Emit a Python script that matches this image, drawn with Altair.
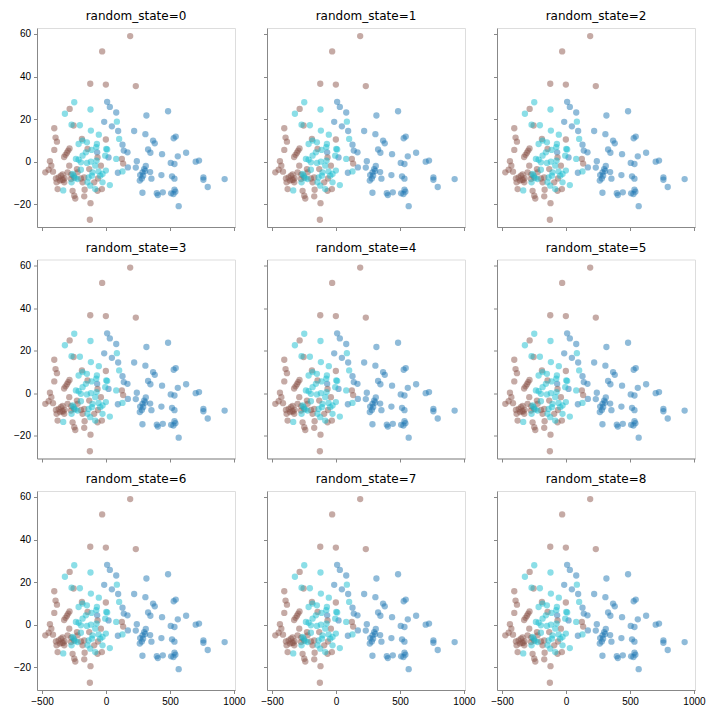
import altair as alt
import pandas as pd

# class 0 (blue)
blue_x = [9, 30, 80, -14, 46, 95, 316, 485, 220, 308, 368, 381, 529, 545, 129, 139, 168, 20,
          329, 347, 438, 561, 626, 241, 233, 93, 171, 311, 298, 285, 267, 280, 264, 345, 355,
          433, 506, 535, 516, 535, 701, 727, 761, 761, 795, 927, 285, 397, 405, 444, 509, 535,
          542, 527, 568, -69, 290, 306]
blue_y = [28.1, 25.7, 23.1, 18.7, 16.6, 14.4, 21.7, 23.7, 14.4, 12.9, 9.9, 8.6, 11.0, 11.8, 8.0,
          5.2, 4.4, 2.0, 5.7, 4.2, 3.5, 2.5, 4.2, 0.2, -2.8, -5.2, -2.7, -2.0, -3.5, -5.0, -6.3,
          -7.9, -8.9, -4.9, -8.0, -6.3, -0.6, -1.1, -6.9, -8.0, 0.0, 0.5, -7.4, -8.5, -11.9, -8.2,
          -14.6, -14.8, -15.7, -14.4, -14.9, -13.2, -14.1, -15.2, -20.9, 4.4, -6.6, -4.4]

# class 1 (brown)
brown_x = [189, -30, -123, -1, 233, -284, -404, -394, -383, -253, -1, -188, -404, -285, -295,
           -305, -316, -327, -438, -427, -474, -448, -414, -370, -352, -339, -360, -391, -334,
           -323, -287, -271, -274, -248, -222, -196, -170, -227, -144, -66, -40, 124, 134, -92,
           -66, -32, -261, -248, -240, -170, -121, -126, -378, -326, -183, -131, -167, -344,
           -386, -300, -63]
brown_y = [59.0, 51.8, 36.6, 36.2, 35.5, 24.8, 15.7, 11.3, 9.4, 17.0, 10.4, 10.7, 5.5, 6.2, 5.2,
           4.2, 3.2, 2.2, 0.2, -1.9, -5.0, -3.8, -4.7, -7.4, -6.6, -6.0, -8.9, -7.9, -8.6, -7.7,
           -1.9, -6.1, -8.2, -7.4, -5.0, -7.9, -7.4, -3.5, 6.0, 2.0, -1.9, 1.3, -0.9, -9.7, -13.7,
           -12.9, -13.7, -16.0, -17.3, -16.3, -19.5, -27.3, -12.9, -9.7, -9.7, -3.5, -13.2, -8.5,
           -9.7, -5.0, -7.9]

# class 2 (cyan)
cyan_x = [-248, -321, -121, -269, -204, -118, -56, 85, 103, -183, -149, -214, -71, -76, -113,
          -157, -183, -235, -214, -196, -149, -118, -74, -84, 2, -6, 80, 129, -1, -27, -58, -105,
          -196, -261, -240, -222, -136, -110, -144, -123, -84, -27, 30, -334, -269, -45, 9, -253]
cyan_y = [27.9, 22.5, 24.5, 17.4, 17.1, 14.6, 12.7, 18.8, 10.7, 9.9, 9.1, 8.3, 8.3, 6.8, 5.5,
          4.4, 2.8, 1.3, 0.9, -0.3, -0.6, 0.0, 0.5, -1.9, 6.0, 2.8, 1.3, -4.6, -4.2, -5.8, -4.6,
          -5.0, -3.8, -5.8, -7.7, -8.2, -7.4, -6.6, -9.7, -11.3, -12.9, -9.7, -11.0, -13.5, -9.7,
          -6.6, 5.7, -6.6]

titles = [f"random_state={i}" for i in range(9)]
x_ticks = [-500, 0, 500, 1000]
y_ticks = [-20, 0, 20, 40, 60]
classes = ["0", "1", "2"]
colors = ["#1f77b4", "#8c564b", "#17becf"]

rows = []
for cls, xs, ys in (("0", blue_x, blue_y), ("1", brown_x, brown_y), ("2", cyan_x, cyan_y)):
    for xv, yv in zip(xs, ys):
        rows.append({"x": xv, "y": yv, "cls": cls})
df = pd.DataFrame(rows)
df["order"] = range(len(df))


def panel(i):
    r, c = divmod(i, 3)
    xaxis = alt.Axis(values=x_ticks, labels=(r == 2), grid=False, tickSize=3.5,
                     labelPadding=3, title=None, format="d")
    yaxis = alt.Axis(values=y_ticks, labels=(c == 0), grid=False, tickSize=3.5,
                     labelPadding=3, title=None, format="d")
    return alt.Chart(df).mark_circle(size=40, opacity=0.5).encode(
        x=alt.X("x:Q", scale=alt.Scale(domain=[-539, 1008], nice=False, zero=False), axis=xaxis),
        y=alt.Y("y:Q", scale=alt.Scale(domain=[-30.7, 62.8], nice=False, zero=False), axis=yaxis),
        color=alt.Color("cls:N", scale=alt.Scale(domain=classes, range=colors), legend=None),
        order=alt.Order("order:Q"),
    ).properties(
        width=198, height=199,
        title=alt.TitleParams(titles[i], fontSize=12, fontWeight="normal", color="black",
                              font="DejaVu Sans", offset=5, anchor="middle"),
    )


chart = alt.concat(*[panel(i) for i in range(9)], columns=3,
                   spacing={"row": 32.5, "column": 32}, bounds="flush").properties(
    padding={"left": 5, "top": 1, "right": 5, "bottom": 5}
).configure_view(
    stroke="black", strokeWidth=1
).configure_axis(
    domainColor="black", tickColor="black", labelColor="black", labelFontSize=10,
    labelFont="DejaVu Sans", domainWidth=1, tickWidth=1
).configure(background="white")

chart.save("out.html", embed_options={"renderer": "svg", "actions": False})
